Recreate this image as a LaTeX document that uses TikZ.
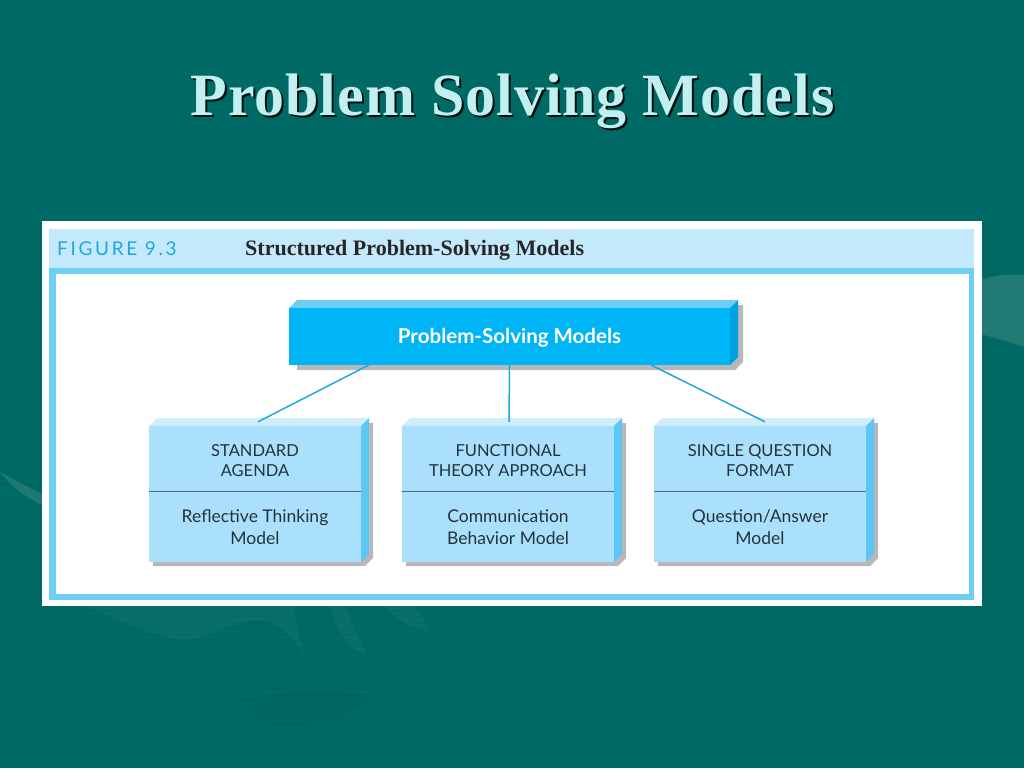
\documentclass[tikz,border=0pt]{standalone}
\usepackage{fontspec}
\setmainfont{Liberation Serif}
\setsansfont{Lato}
\usepackage{tikz}
\usetikzlibrary{positioning}

\definecolor{bgteal}{HTML}{006863}
\definecolor{bgstripe}{HTML}{006B66}
\definecolor{bgwave}{HTML}{2A7F78}
\definecolor{bgdark}{HTML}{005F5B}
\definecolor{titlecol}{HTML}{C2F0F0}
\definecolor{headcol}{HTML}{C4E8FC}
\definecolor{framecol}{HTML}{6DCFF6}
\definecolor{topcol}{HTML}{00B5F5}
\definecolor{topside}{HTML}{00A0E0}
\definecolor{boxcol}{HTML}{ABE0FC}
\definecolor{boxtop}{HTML}{D0EDFC}
\definecolor{boxside}{HTML}{5CC6F4}
\definecolor{linkcol}{HTML}{1FA8E0}
\definecolor{textcol}{HTML}{22323C}
\definecolor{rulecol}{HTML}{4A6A7C}

\begin{document}
\begin{tikzpicture}[
    x=1pt, y=-1pt,
    titletext/.style={
        font=\bfseries\fontsize{60}{66}\selectfont
    },
    topbox/.style={
        rectangle, fill=topcol,
        text=white, font=\sffamily\bfseries\fontsize{20.5}{24}\selectfont,
        minimum width=441pt,
        minimum height=57pt,
        text height=18pt, text depth=5pt,
        inner sep=0pt
    },
    modelbox/.style={
        rectangle, fill=boxcol,
        minimum width=212pt,
        minimum height=136pt,
        inner sep=0pt
    },
    headtext/.style={
        text=textcol, align=center, inner sep=0pt,
        font=\sffamily\fontsize{16.5}{20}\selectfont
    },
    subtext/.style={
        text=textcol, align=center, inner sep=0pt,
        font=\sffamily\fontsize{17.5}{22}\selectfont
    },
    link/.style={draw=linkcol, line width=1.5pt}
]

% page
\useasboundingbox (0,0) rectangle (1024,768);
\fill[bgteal] (0,0) rectangle (1024,768);
\foreach \y in {0,6,...,762} {
    \fill[bgstripe] (0,\y) rectangle (1024,\y+3);
}
\fill[bgwave, opacity=.8] (975,282) .. controls (990,276) and (1010,273) .. (1024,275)
    -- (1024,347) .. controls (1010,342) and (990,336) .. (975,333) -- cycle;
\fill[bgwave, opacity=.7] (0,472) .. controls (15,480) and (30,488) .. (42,494)
    -- (42,505) .. controls (25,497) and (10,485) .. (0,472) -- cycle;
\fill[bgwave, opacity=.2] (85,606) .. controls (130,625) and (170,645) .. (200,638)
    .. controls (225,630) and (245,615) .. (270,622)
    .. controls (290,630) and (300,645) .. (305,665)
    .. controls (300,640) and (295,620) .. (295,606) -- cycle;
\fill[bgwave, opacity=.2] (330,606) .. controls (335,625) and (345,650) .. (368,655)
    .. controls (360,640) and (350,620) .. (345,606) -- cycle;
\fill[bgwave, opacity=.2] (385,606) .. controls (395,620) and (415,630) .. (428,630)
    .. controls (425,620) and (418,610) .. (412,606) -- cycle;
\fill[bgdark, opacity=.3] (240,700) .. controls (280,690) and (330,690) .. (370,695)
    .. controls (350,720) and (300,730) .. (270,725) -- cycle;

% title
\node[titletext, text=black!85!bgteal] (titleshadow) at (514.5,103) {\addfontfeature{LetterSpace=1.6}Problem Solving Models};
\node[titletext, text=titlecol] (title) at (512.5,101) {\addfontfeature{LetterSpace=1.6}Problem Solving Models};

% figure panel
\fill[white] (42,221) rectangle (982,606);
\fill[headcol] (49,229) rectangle (974,268);
\fill[framecol] (49,268) rectangle (974,600);
\fill[white] (56,274) rectangle (969,594);
\node[anchor=west, inner sep=0pt, text=linkcol, font=\sffamily\fontsize{19}{22}\selectfont] (figlabel) at (57,249) {\addfontfeature{LetterSpace=14}FIGURE 9.3};
\node[anchor=west, inner sep=0pt, text=black!85, font=\bfseries\fontsize{22}{26}\selectfont] (figtitle) at (245,250) {Structured Problem-Solving Models};

% top box
\fill[black!28] (297,314) -- (743,305) -- (743,362) -- (735,370) -- (297,370) -- cycle;
\fill[framecol] (289,308) -- (297,300) -- (738,300) -- (730,308) -- cycle;
\fill[topside] (730,308) -- (738,300) -- (738,357) -- (730,365) -- cycle;
\node[topbox] (models) at (509.5,336.5) {Problem-Solving Models};

% lower boxes
\foreach \name/\cx/\headlines/\sublines in {
    std/255/{STANDARD\\AGENDA}/{Reflective Thinking\\Model},
    func/508/{FUNCTIONAL\\THEORY APPROACH}/{Communication\\Behavior Model},
    single/760/{SINGLE QUESTION\\FORMAT}/{Question/Answer\\Model}} {
    \fill[black!28] (\cx-100,430) -- (\cx+118,423) -- (\cx+118,558) -- (\cx+110,566) -- (\cx-102,566) -- cycle;
    \fill[boxtop] (\cx-106,426) -- (\cx-98,418) -- (\cx+114,418) -- (\cx+106,426) -- cycle;
    \fill[boxside] (\cx+106,426) -- (\cx+114,418) -- (\cx+114,554) -- (\cx+106,562) -- cycle;
    \node[modelbox] (\name) at (\cx,494) {};
    \draw[rulecol, line width=.8pt] (\name.west |- 0,491.5) -- (\name.east |- 0,491.5);
    \node[headtext] (\name head) at (\cx,460.5) {\headlines};
    \node[subtext] (\name sub) at (\cx,527) {\sublines};
}

\draw[link] ([xshift=-141pt]models.south) -- ([shift={(3,-4)}]std.north);
\draw[link] (models.south) -- ([shift={(1,-4)}]func.north);
\draw[link] ([xshift=142pt]models.south) -- ([shift={(5,-4)}]single.north);

\end{tikzpicture}
\end{document}
